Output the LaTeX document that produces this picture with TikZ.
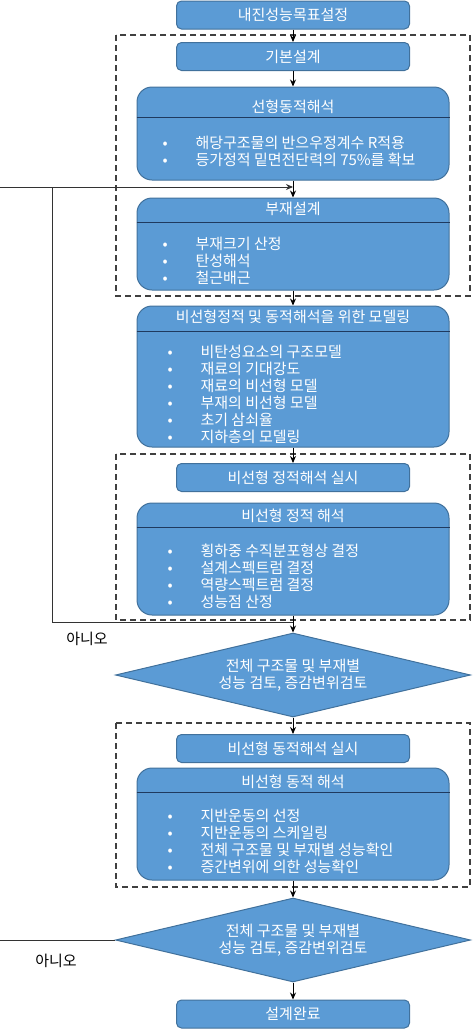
\documentclass[tikz,border=0pt]{standalone}
\usepackage{fontspec}
\setmainfont{Noto Sans CJK KR}
\usepackage{xcolor}
\usepackage{tikz}
\usetikzlibrary{arrows.meta, positioning, shapes.geometric, calc}
\definecolor{boxblue}{HTML}{5B9BD5}
\definecolor{boxedge}{HTML}{41719C}
\definecolor{headnavy}{HTML}{1F3A5F}
\definecolor{framegray}{HTML}{404040}
\newcommand{\itemdot}{\makebox[33pt][l]{\textbullet}}

\begin{document}
\begin{tikzpicture}[x=1pt, y=-1pt, >={Stealth[length=7pt, width=6pt]},
    smallbox/.style={draw=boxedge, fill=boxblue, line width=1pt, rounded corners=5pt, minimum width=233pt, minimum height=28pt, inner sep=0pt, text=white, font=\fontsize{15}{17}\selectfont},
    bigbox/.style={draw=boxedge, fill=boxblue, line width=1pt, rounded corners=15pt, minimum width=312pt, inner sep=0pt},
    decision/.style={diamond, draw=boxedge, fill=boxblue, line width=1pt, aspect=4.2, minimum width=355pt, minimum height=84pt, inner sep=0pt, text=white, align=center, font=\fontsize{15}{17}\selectfont},
    headline/.style={draw=headnavy, line width=1pt},
    headtext/.style={text=white, font=\fontsize{15}{17}\selectfont},
    itemtext/.style={text=white, anchor=west, align=left, font=\fontsize{15}{17}\selectfont},
    frame/.style={draw=framegray, line width=1.2pt, dash pattern=on 6pt off 4pt},
    flow/.style={->, line width=0.9pt},
    loopline/.style={line width=0.9pt, draw=black!80}]
    \useasboundingbox (0,0) rectangle (474,1031);

    % Dashed groups
    \draw[frame] (116,35) rectangle (470,296);
    \draw[frame] (116,454) rectangle (470,620);
    \draw[frame] (116,723) rectangle (470,887);

    % Target and basic design
    \node[smallbox] (goal) at (293,15) {내진성능목표설정};
    \node[smallbox] (basic) at (293,56.5) {기본설계};

    % Linear dynamic analysis
    \node[bigbox, minimum height=93pt] (linear) at (293,133.5) {};
    \draw[headline] ([yshift=-31pt]linear.north west) -- ([yshift=-31pt]linear.north east);
    \node[headtext] (linear-t) at (293,107) {선형동적해석};
    \node[itemtext] (linear-i) at (159,151.5) {\itemdot 해당구조물의 반으우정계수 R적용\\ \itemdot 등가정적 밑면전단력의 75\%를 확보};

    % Member design
    \node[bigbox, minimum height=92pt] (member) at (293,244) {};
    \draw[headline] ([yshift=-25pt]member.north west) -- ([yshift=-25pt]member.north east);
    \node[headtext] (member-t) at (293,209) {부재설계};
    \node[itemtext] (member-i) at (159,260.5) {\itemdot 부재크기 산정\\ \itemdot 탄성해석\\ \itemdot 철근배근};

    % Modelling
    \node[bigbox, minimum height=141pt] (model) at (293,376.5) {};
    \draw[headline] ([yshift=-26pt]model.north west) -- ([yshift=-26pt]model.north east);
    \node[headtext] (model-t) at (293,317) {비선형정적 및 동적해석을 위한 모델링};
    \node[itemtext] (model-i) at (164,394) {\itemdot 비탄성요소의 구조모델\\ \itemdot 재료의 기대강도\\ \itemdot 재료의 비선형 모델\\ \itemdot 부재의 비선형 모델\\ \itemdot 초기 삼쇠율\\ \itemdot 지하층의 모델링};

    % Nonlinear static analysis
    \node[smallbox] (pushrun) at (293,477.5) {비선형 정적해석 실시};
    \node[bigbox, minimum height=112pt] (push) at (293,559) {};
    \draw[headline] ([yshift=-25pt]push.north west) -- ([yshift=-25pt]push.north east);
    \node[headtext] (push-t) at (293,516) {비선형 정적 해석};
    \node[itemtext] (push-i) at (164,576) {\itemdot 횡하중 수직분포형상 결정\\ \itemdot 설계스펙트럼 결정\\ \itemdot 역량스펙트럼 결정\\ \itemdot 성능점 산정};

    % First check
    \node[decision] (check1) at (293,675) {전체 구조물 및 부재별\\성능 검토, 증감변위검토};

    % Nonlinear dynamic analysis
    \node[smallbox] (thrun) at (293,748.5) {비선형 동적해석 실시};
    \node[bigbox, minimum height=112pt] (th) at (293,824) {};
    \draw[headline] ([yshift=-25pt]th.north west) -- ([yshift=-25pt]th.north east);
    \node[headtext] (th-t) at (293,782) {비선형 동적 해석};
    \node[itemtext] (th-i) at (164,841) {\itemdot 지반운동의 선정\\ \itemdot 지반운동의 스케일링\\ \itemdot 전체 구조물 및 부재별 성능확인\\ \itemdot 증간변위에 의한 성능확인};

    % Second check and end
    \node[decision] (check2) at (293,940) {전체 구조물 및 부재별\\성능 검토, 증감변위검토};
    \node[smallbox] (done) at (293,1014) {설계완료};

    % Main flow
    \draw[flow] (goal) -- (basic);
    \draw[flow] (basic) -- (linear);
    \draw[flow] (linear) -- (member);
    \draw[flow] (member) -- (model);
    \draw[flow] (model) -- (pushrun);
    \draw[flow] (push) -- (check1);
    \draw[flow] (check1) -- (thrun);
    \draw[flow] (th) -- (check2);
    \draw[flow] (check2) -- (done);

    % Loops back to member design
    \coordinate (loopin) at (293,187);
    \coordinate (loopout) at (293,622);
    \coordinate (loopjoin) at (52,187);
    \coordinate (leftin) at (0,187);
    \coordinate (leftout) at (0,940);
    \draw[loopline] (loopout) -| (loopjoin);
    \draw[loopline, ->] (leftin) -- (loopin);
    \draw[loopline] (check2.west) -- (leftout);
    \node[font=\fontsize{15}{17}\selectfont] (no1) at (87,639) {아니오};
    \node[font=\fontsize{15}{17}\selectfont] (no2) at (56,961) {아니오};
\end{tikzpicture}
\end{document}
